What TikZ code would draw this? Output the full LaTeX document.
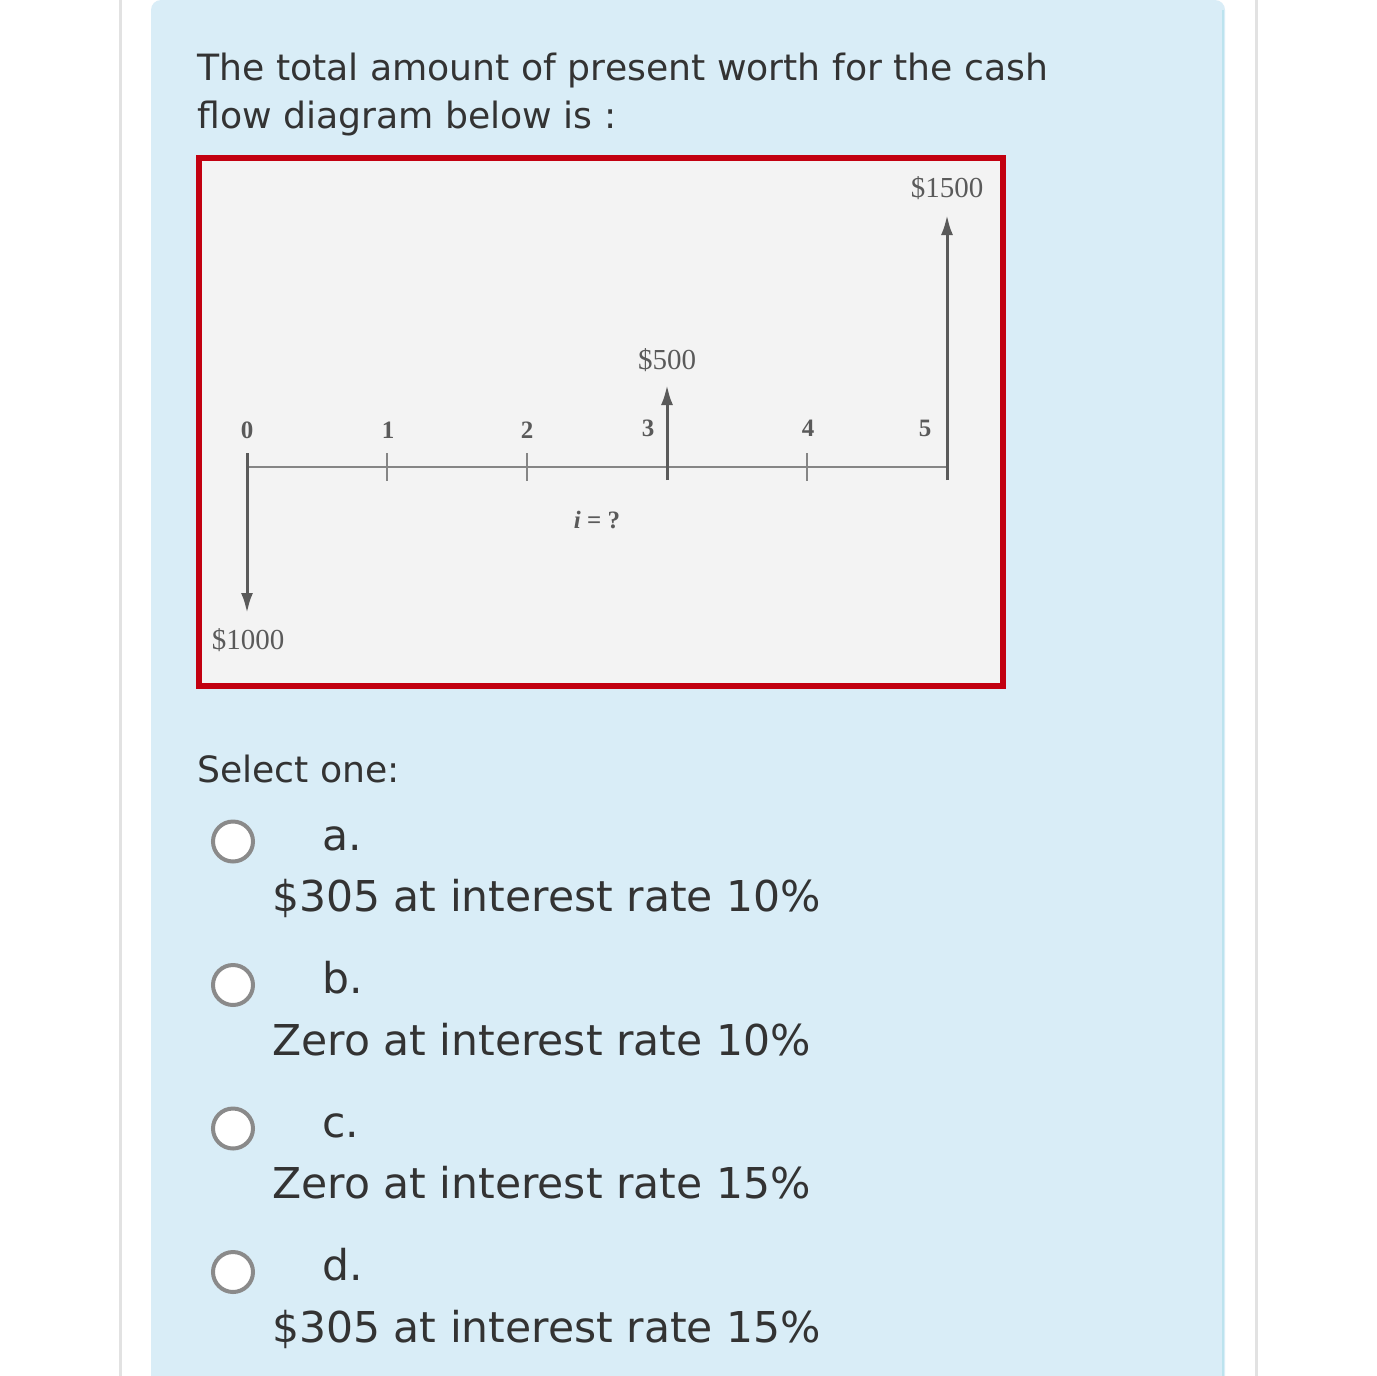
\documentclass[tikz,border=0pt]{standalone}
\usepackage{fontspec}
\setmainfont{DejaVu Sans}
\newfontfamily\bookfont{Liberation Serif}
\usetikzlibrary{arrows.meta}
\definecolor{panelblue}{HTML}{D9EDF7}
\definecolor{paneledge}{HTML}{BCE3EE}
\definecolor{pagerule}{HTML}{E2E2E2}
\definecolor{txtgray}{HTML}{333333}
\definecolor{radiogray}{HTML}{8A8A8A}
\definecolor{boxred}{HTML}{C20010}
\definecolor{scanbg}{HTML}{F3F3F3}
\definecolor{cfgray}{HTML}{5A5A5A}
\definecolor{axisgray}{HTML}{858585}

\begin{document}
\begin{tikzpicture}[x=1pt,y=-1pt,
  qtext/.style={anchor=base west,inner sep=0,text=txtgray,font=\fontsize{36.2}{43}\selectfont},
  opttext/.style={anchor=base west,inner sep=0,text=txtgray,font=\fontsize{42.5}{50}\selectfont},
  radio/.style={draw=radiogray,line width=4,fill=white,circle,minimum size=40,inner sep=0},
  cflabel/.style={inner sep=0,text=cfgray,font=\bookfont\bfseries\fontsize{25}{25}\selectfont},
  cfamount/.style={inner sep=0,text=cfgray,font=\bookfont\fontsize{29}{29}\selectfont},
  axis/.style={draw=axisgray,line width=2},
  flow/.style={draw=cfgray,line width=3,-{Latex[length=20,width=12]}}]
  \useasboundingbox (0,0) rectangle (1376,1376);
  \fill[white] (0,0) rectangle (1376,1376);
  \begin{scope}
    \clip (0,0) rectangle (1376,1376);
    \fill[pagerule] (119,0) rectangle (122,1376);
    \fill[pagerule] (1255,0) rectangle (1258,1376);
    \fill[panelblue,rounded corners=10] (151,0) rectangle (1225,1400);
    \draw[paneledge,line width=2] (1223,10) -- (1223,1376);
  \end{scope}

  % question
  \node[qtext] (q1) at (197,80) {The total amount of present worth for the cash};
  \node[qtext] (q2) at (197,128) {flow diagram below is :};

  % cash flow diagram
  \draw[boxred,line width=6,fill=scanbg] (199,158) rectangle (1002.5,686);
  \coordinate (t0) at (247,467);
  \coordinate (t1) at (387,467);
  \coordinate (t2) at (527,467);
  \coordinate (t3) at (667,467);
  \coordinate (t4) at (807,467);
  \coordinate (t5) at (947,467);
  \draw[axis] (t0) -- (t5);
  \draw[axis] ([yshift=14]t1) -- ([yshift=-14]t1);
  \draw[axis] ([yshift=14]t2) -- ([yshift=-14]t2);
  \draw[axis] ([yshift=14]t4) -- ([yshift=-14]t4);
  \coordinate (c0) at (247,613);
  \coordinate (c3) at (667,385);
  \coordinate (c5) at (947,215);
  \draw[flow] ([yshift=14]t0) -- (c0);
  \draw[flow] ([yshift=-13]t3) -- (c3);
  \draw[flow] ([yshift=-13]t5) -- (c5);
  \node[cflabel] (n0) at (247,430) {0};
  \node[cflabel] (n1) at (388,430) {1};
  \node[cflabel] (n2) at (527,430) {2};
  \node[cflabel] (n3) at (648,428) {3};
  \node[cflabel] (n4) at (808,428) {4};
  \node[cflabel] (n5) at (925,428) {5};
  \node[cfamount] (m0) at (248,640) {\$1000};
  \node[cfamount] (m3) at (667,360) {\$500};
  \node[cfamount] (m5) at (947,188) {\$1500};
  \node[cflabel] (rate) at (597,520) {\textit{i} = ?};

  % answers
  \node[qtext] (sel) at (197,782) {Select one:};
  \node[radio] (ra) at (233,841.5) {};
  \node[opttext] (la) at (322,850) {a.};
  \node[opttext] (xa) at (272,911.5) {\$305 at interest rate 10\%};
  \node[radio] (rb) at (233,985) {};
  \node[opttext] (lb) at (322,993.5) {b.};
  \node[opttext] (xb) at (272,1055) {Zero at interest rate 10\%};
  \node[radio] (rc) at (233,1128.5) {};
  \node[opttext] (lc) at (322,1137) {c.};
  \node[opttext] (xc) at (272,1198.5) {Zero at interest rate 15\%};
  \node[radio] (rd) at (233,1272) {};
  \node[opttext] (ld) at (322,1280.5) {d.};
  \node[opttext] (xd) at (272,1342) {\$305 at interest rate 15\%};
\end{tikzpicture}
\end{document}
